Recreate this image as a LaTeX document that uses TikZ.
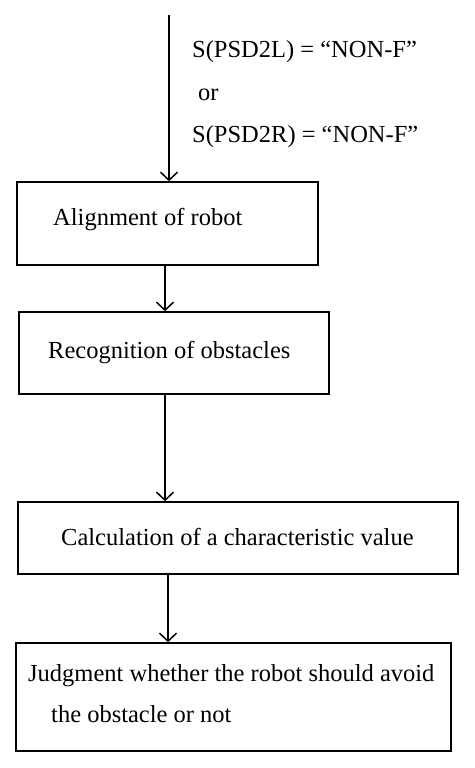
\documentclass[tikz,border=0pt]{standalone}
\usepackage{fontspec}
\setmainfont{Liberation Serif}
\usetikzlibrary{arrows.meta}
\begin{document}
\begin{tikzpicture}[x=1pt,y=-1pt,
  box/.style={draw,line width=1.6pt,inner sep=0pt},
  lbl/.style={anchor=west,inner sep=0pt,font=\fontsize{24.5}{29}\selectfont},
  conn/.style={line width=1.5pt,-{Straight Barb[length=8pt,width=17pt,line width=1.5pt]}}]
\useasboundingbox (0,0) rectangle (474,768);
% boxes
\node[box,minimum width=301pt,minimum height=83pt] (b1) at (167.5,223.5) {};
\node[box,minimum width=310pt,minimum height=82pt] (b2) at (174,353) {};
\node[box,minimum width=440pt,minimum height=72pt] (b3) at (238,538) {};
\node[box,minimum width=435pt,minimum height=108pt] (b4) at (233.5,697) {};
% texts
\node[lbl] (t0a) at (192,52) {S(PSD2L) = “NON-F”};
\node[lbl] (t0b) at (198,95) {or};
\node[lbl] (t0c) at (192,137) {S(PSD2R) = “NON-F”};
\node[lbl] (t1) at (53,220) {Alignment of robot};
\node[lbl] (t2) at (48,353) {Recognition of obstacles};
\node[lbl] (t3) at (61,537) {Calculation of a characteristic value};
\node[lbl] (t4a) at (28,676) {Judgment whether the robot should avoid};
\node[lbl] (t4b) at (51,714) {the obstacle or not};
% connectors
\coordinate (start) at (169,15);
\draw[conn] (start) -- (start |- b1.north);
\draw[conn] (165,0 |- b1.south) -- (165,0 |- b2.north);
\draw[conn] (165,0 |- b2.south) -- (165,0 |- b3.north);
\draw[conn] (168,0 |- b3.south) -- (168,0 |- b4.north);
\end{tikzpicture}
\end{document}
